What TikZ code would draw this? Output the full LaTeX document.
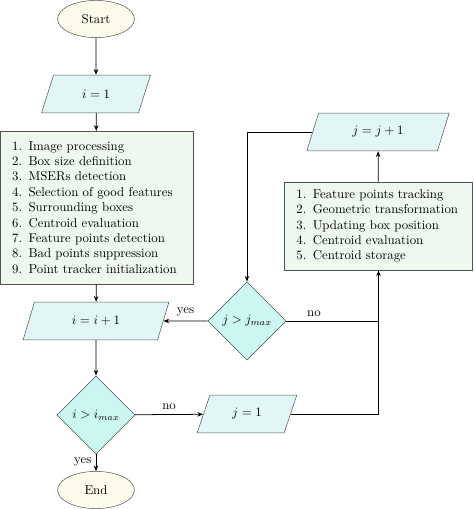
\documentclass[tikz,border=0pt]{standalone}
\usetikzlibrary{shapes.geometric,arrows.meta}
\definecolor{termfill}{HTML}{FDFBEA}
\definecolor{iofill}{HTML}{E2F7F5}
\definecolor{decfill}{HTML}{CCF6F1}
\definecolor{procfill}{HTML}{EFF8EF}
\definecolor{edge}{HTML}{4A5656}
\tikzset{
  every node/.style={font=\fontsize{10}{12}\selectfont},
  term/.style={ellipse, draw=edge, fill=termfill, minimum width=60pt, minimum height=29pt, inner sep=0pt},
  io/.style={trapezium, trapezium left angle=65, trapezium right angle=115, trapezium stretches=true,
             draw=edge, fill=iofill, minimum height=29.6pt, inner sep=0pt},
  dec/.style={diamond, draw=edge, fill=decfill, minimum width=61pt, minimum height=61pt, inner sep=0pt},
  proc/.style={rectangle, draw=edge, fill=procfill, align=left, inner xsep=9pt, inner ysep=0pt},
  conn/.style={draw=black, line width=0.6pt},
  arr/.style={conn, -{Stealth[length=4.5pt,width=3.5pt]}},
  lbl/.style={font=\fontsize{10}{12}\selectfont}
}
\begin{document}
\begin{tikzpicture}[x=0.78pt, y=-0.78pt]
\useasboundingbox (0,0) rectangle (474,509);
\node[term] (start) at (96,19) {Start};
\node[io, minimum width=85pt] (i1) at (96,94) {$i=1$};
\node[proc, minimum width=150pt, minimum height=119pt, text width=132pt] (box1) at (96.8,207.5) {1. Image processing\\2. Box size definition\\3. MSERs detection\\4. Selection of good features\\5. Surrounding boxes\\6. Centroid evaluation\\7. Feature points detection\\8. Bad points suppression\\9. Point tracker initialization};
\node[io, minimum width=114pt] (iinc) at (96,321) {$i=i+1$};
\node[dec] (idec) at (96,415) {$i>i_{max}$};
\node[term] (end) at (96,490) {End};
\node[dec] (jdec) at (247,321) {$j>j_{max}$};
\node[io, minimum width=78pt] (j1) at (247,414) {$j=1$};
\node[proc, minimum width=147pt, minimum height=69pt, text width=128pt, inner xsep=9.5pt] (box2) at (378.5,226) {1. Feature points tracking\\2. Geometric transformation\\3. Updating box position\\4. Centroid evaluation\\5. Centroid storage};
\node[io, minimum width=111.5pt] (jinc) at (378,132) {$j=j+1$};
\coordinate (junc) at (box2.south |- jdec.east);

\draw[arr] (start) -- (i1);
\draw[arr] (i1) -- (box1);
\draw[arr] (box1) -- (iinc);
\draw[arr] (iinc) -- (idec);
\draw[arr] (idec) -- node[lbl, left, pos=0.45] {yes} (end);
\draw[arr] (idec) -- node[lbl, above] {no} (j1);
\draw[arr] (j1.east) -| (box2.south);
\draw[conn] (jdec.east) -- node[lbl, above, pos=0.3] {no} (junc);
\draw[arr] (box2) -- (jinc);
\draw[arr] (jinc.west) -| (jdec.north);
\draw[arr] (jdec.west) -- node[lbl, above] {yes} (iinc.east);
\end{tikzpicture}
\end{document}
